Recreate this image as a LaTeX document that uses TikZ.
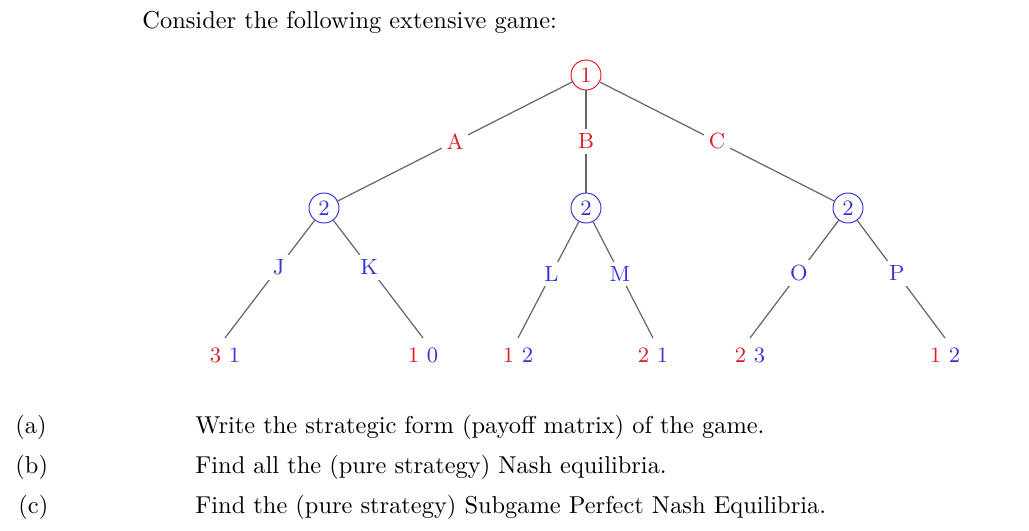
\documentclass[tikz,border=0pt]{standalone}
\definecolor{pred}{rgb}{0.88,0.1,0.15}
\definecolor{pblue}{rgb}{0.2,0.2,0.85}
\begin{document}
\begin{tikzpicture}[x=0.0144cm,y=-0.0144cm,
  dec/.style={circle,draw,minimum size=30*0.0144cm,inner sep=0pt,font=\small},
  red1/.style={dec,draw=pred,text=pred},
  blue2/.style={dec,draw=pblue,text=pblue},
  lab/.style={fill=white,inner sep=2pt,font=\small},
  edge/.style={draw=black!60,line width=0.5pt},
  txt/.style={anchor=base west,inner sep=0pt}]
\useasboundingbox (0,0) rectangle (1029,531);
\node[txt] (t) at (142,28) {Consider the following extensive game:};
\node[red1] (r) at (586,75) {1};
\node[blue2] (n1) at (324,208) {2};
\node[blue2] (n2) at (586,208) {2};
\node[blue2] (n3) at (848,208) {2};
\coordinate (l1) at (225,338);
\coordinate (l2) at (423,338);
\coordinate (l3) at (518,338);
\coordinate (l4) at (653,338);
\coordinate (l5) at (750,338);
\coordinate (l6) at (945,338);
\draw[edge] (r) -- (n1) node[lab,text=pred,pos=0.5] (A) {A};
\draw[edge] (r) -- (n2) node[lab,text=pred,pos=0.5] (B) {B};
\draw[edge] (r) -- (n3) node[lab,text=pred,pos=0.5] (C) {C};
\draw[edge] (n1) -- (l1) node[lab,text=pblue,pos=0.4] (J) {J};
\draw[edge] (n1) -- (l2) node[lab,text=pblue,pos=0.4] (K) {K};
\draw[edge] (n2) -- (l3) node[lab,text=pblue,pos=0.45] (L) {L};
\draw[edge] (n2) -- (l4) node[lab,text=pblue,pos=0.45] (M) {M};
\draw[edge] (n3) -- (l5) node[lab,text=pblue,pos=0.45] (O) {O};
\draw[edge] (n3) -- (l6) node[lab,text=pblue,pos=0.45] (P) {P};
\foreach \x/\a/\b/\n in {225/3/1/p1,423/1/0/p2,518/1/2/p3,653/2/1/p4,750/2/3/p5,945/1/2/p6}
  \node[font=\small] (\n) at (\x,355) {\textcolor{pred}{\a}\ \textcolor{pblue}{\b}};
\node[txt] (a) at (15,433) {(a)};
\node[txt] (b) at (15,473) {(b)};
\node[txt] (c) at (18,513) {(c)};
\node[txt] (ta) at (195,433) {Write the strategic form (payoff matrix) of the game.};
\node[txt] (tb) at (195,473) {Find all the (pure strategy) Nash equilibria.};
\node[txt] (tc) at (195,513) {Find the (pure strategy) Subgame Perfect Nash Equilibria.};
\end{tikzpicture}
\end{document}
